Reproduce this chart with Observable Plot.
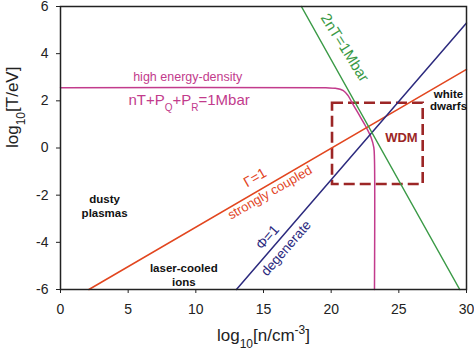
<!DOCTYPE html>
<html><head><meta charset="utf-8">
<script src="https://cdn.jsdelivr.net/npm/d3@7"></script>
<script src="https://cdn.jsdelivr.net/npm/@observablehq/plot@0.6"></script>
<style>html,body{margin:0;padding:0;background:#fff;} svg{display:block}</style>
</head><body><div id="chart"></div>
<script>
// tick values
const xTicks = [0, 5, 10, 15, 20, 25, 30];
const yTicks = [-6, -4, -2, 0, 2, 4, 6];
// Gamma = 1 (strongly coupled)
const gammaX = [2.1, 30];
const gammaY = [-6, 3.33];
// Phi = 1 (degenerate)
const degenX = [13, 30];
const degenY = [-6, 5.3];
// 2nT = 1 Mbar
const pressX = [17.8, 29.5];
const pressY = [6, -6];
// nT + PQ + PR = 1 Mbar (high energy-density)
const hedX = [0, 19.6, 20.3, 20.9, 21.25, 21.6, 22.1, 22.6, 22.95, 23.15, 23.2, 23.2];
const hedY = [2.55, 2.55, 2.53, 2.43, 2.22, 1.86, 1.37, 0.87, 0.45, 0.03, -0.5, -6];
// WDM box extents
const wdmX = [20.1, 26.8];
const wdmY = [-1.55, 1.9];

const toPts = (xs, ys) => xs.map((x, i) => ({x, y: ys[i]}));

const RED = "#e2461f", NAVY = "#2c2a7e", GREEN = "#3a9a46", MAG = "#c23b8c", WDMC = "#9c2626";
const FONT = "'Liberation Sans', Arial, Helvetica, sans-serif";

const svg = Plot.plot({
  width: 474, height: 354,
  marginLeft: 60, marginRight: 8, marginTop: 6, marginBottom: 65,
  style: {fontFamily: FONT, fontSize: "14px", color: "#222", background: "#fff", overflow: "visible"},
  x: {domain: [0, 30], ticks: xTicks, tickSize: 4, tickPadding: 11, label: null, tickFormat: d => String(d)},
  y: {domain: [-6, 6], ticks: yTicks, tickSize: 4, tickPadding: 8, label: null, tickFormat: d => String(d)},
  marks: [
    Plot.rect([{x1: wdmX[0], x2: wdmX[1], y1: wdmY[0], y2: wdmY[1]}], {x1: "x1", x2: "x2", y1: "y1", y2: "y2", fill: "none", stroke: WDMC, strokeWidth: 2.6, strokeDasharray: "11,5"}),
    Plot.line(toPts(hedX, hedY), {x: "x", y: "y", stroke: MAG, strokeWidth: 1.5, curve: "catmull-rom"}),
    Plot.line(toPts(gammaX, gammaY), {x: "x", y: "y", stroke: RED, strokeWidth: 1.5}),
    Plot.line(toPts(degenX, degenY), {x: "x", y: "y", stroke: NAVY, strokeWidth: 1.5}),
    Plot.line(toPts(pressX, pressY), {x: "x", y: "y", stroke: GREEN, strokeWidth: 1.5}),
    Plot.frame({stroke: "#222", strokeWidth: 1.5}),
    // annotations
    Plot.text(["high energy-density"], {x: 9.4, y: 3.03, fill: MAG, fontSize: 12.5}),
    Plot.text(["nT+PQ+PR=1Mbar"], {x: 9.5, y: 2.03, fill: MAG, fontSize: 15}),
    Plot.text(["2nT=1Mbar"], {x: 21.0, y: 4.25, fill: GREEN, fontSize: 15, rotate: 58}),
    Plot.text(["WDM"], {x: 25.19, y: 0.42, fill: WDMC, fontSize: 13, fontWeight: "bold"}),
    Plot.text(["white\ndwarfs"], {x: 28.67, y: 2.03, fill: "#111", fontSize: 11.5, fontWeight: "bold", lineHeight: 1.1}),
    Plot.text(["Γ=1"], {x: 14.37, y: -1.26, fill: RED, fontSize: 14, rotate: -30}),
    Plot.text(["strongly coupled"], {x: 15.47, y: -1.89, fill: RED, fontSize: 13, rotate: -30}),
    Plot.text(["Φ=1"], {x: 15.3, y: -3.79, fill: NAVY, fontSize: 14, rotate: -49}),
    Plot.text(["degenerate"], {x: 16.67, y: -4.25, fill: NAVY, fontSize: 13.5, rotate: -49}),
    Plot.text(["dusty\nplasmas"], {x: 3.26, y: -2.44, fill: "#111", fontSize: 11.5, fontWeight: "bold", lineHeight: 1.2}),
    Plot.text(["laser-cooled\nions"], {x: 9.11, y: -5.37, fill: "#111", fontSize: 11.5, fontWeight: "bold", lineHeight: 1.2}),
    // axis titles
    Plot.text(["log10[n/cm-3]"], {frameAnchor: "bottom", dy: 51, fill: "#222", fontSize: 17}),
    Plot.text(["log10[T/eV]"], {frameAnchor: "left", dx: -48, rotate: -90, fill: "#222", fontSize: 17})
  ]
});

const rich = {
  "log10[n/cm-3]": 'log<tspan baseline-shift="sub" font-size="12">10</tspan>[n/cm<tspan baseline-shift="super" font-size="12">-3</tspan>]',
  "log10[T/eV]": 'log<tspan baseline-shift="sub" font-size="12">10</tspan>[T/eV]',
  "nT+PQ+PR=1Mbar": 'nT+P<tspan baseline-shift="sub" font-size="10">Q</tspan>+P<tspan baseline-shift="sub" font-size="10">R</tspan>=1Mbar'
};
d3.select(svg).selectAll("text").each(function () {
  const t = this.textContent;
  if (rich[t]) this.innerHTML = rich[t];
});
document.getElementById("chart").appendChild(svg);
</script>
</body></html>
